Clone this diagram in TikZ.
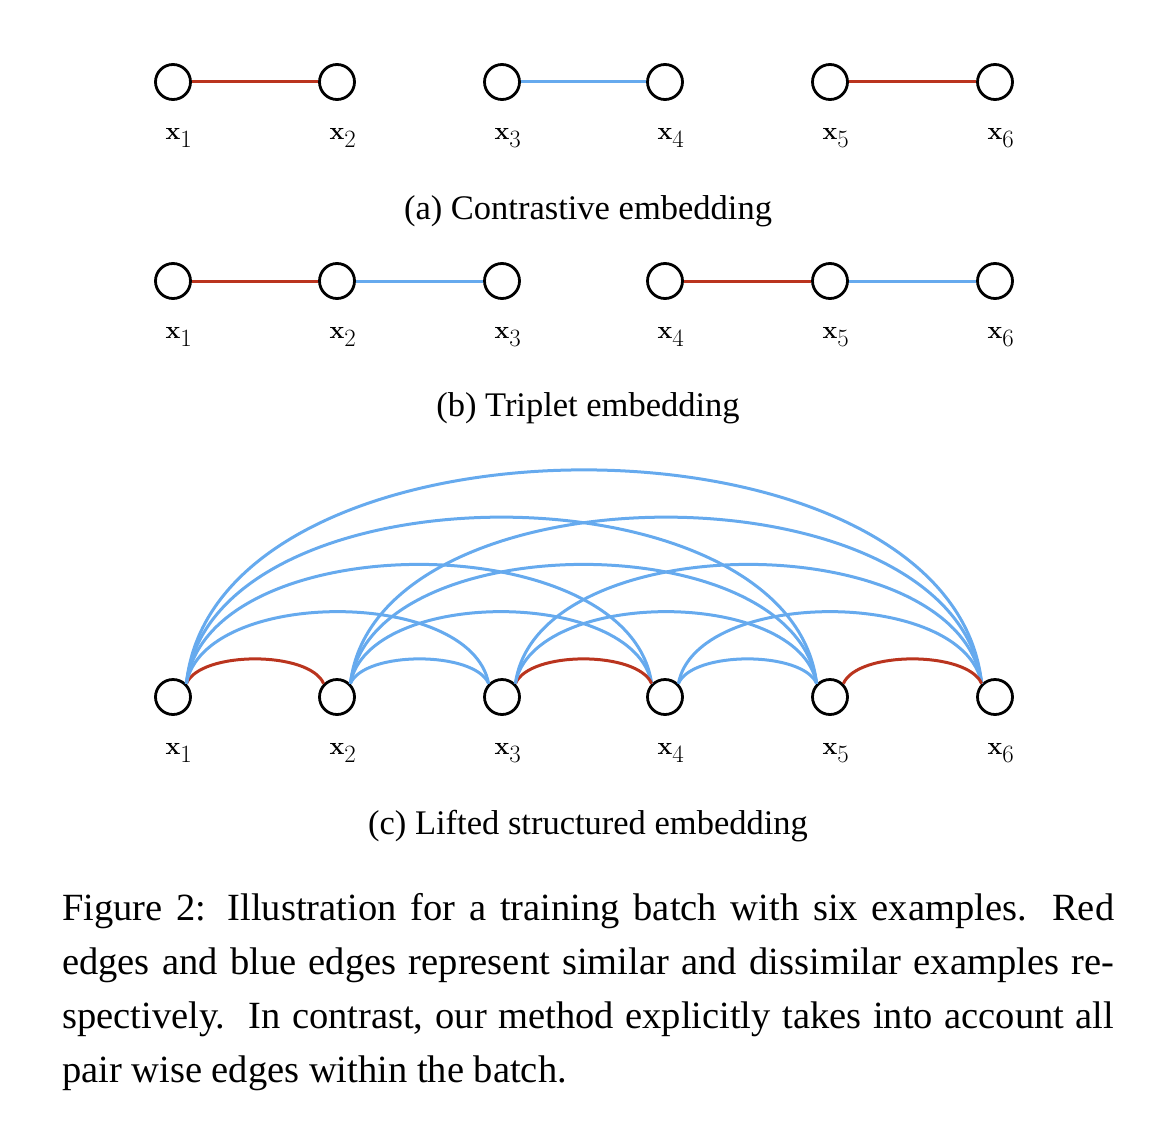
\documentclass[tikz,border=0pt]{standalone}
\usepackage{amsmath}
\usepackage[no-math]{fontspec}
\setmainfont{Liberation Serif}
\begin{document}
\begin{tikzpicture}[x=1pt,y=-1pt,
  v/.style={circle,draw=black,line width=2.8pt,minimum size=35pt,inner sep=0pt},
  lab/.style={font=\fontsize{40}{42}\selectfont},
  sub/.style={font=\fontsize{34.5}{38}\selectfont},
  red/.style={draw={rgb,255:red,186;green,52;blue,30},line width=3pt},
  blue/.style={draw={rgb,255:red,102;green,170;blue,238},line width=3pt}]
\useasboundingbox (0,0) rectangle (1150,1126);
\def\xs{{173,337,502,665,830,995}}
\foreach \r/\y in {a/82,b/281,c/697}{
  \foreach \i in {1,...,6}{
    \pgfmathsetmacro\xx{\xs[\i-1]}
    \node[v] (\r\i) at (\xx,\y) {};
    \node[lab] (\r l\i) at (\xx+6,\y+56) {$\mathbf{x}_{\i}$};
  }
}
% (a)
\draw[red] (a1) -- (a2);
\draw[blue] (a3) -- (a4);
\draw[red] (a5) -- (a6);
\node[sub] (ca) at (588,211) {(a) Contrastive embedding};
% (b)
\draw[red] (b1) -- (b2);
\draw[blue] (b2) -- (b3);
\draw[red] (b4) -- (b5);
\draw[blue] (b5) -- (b6);
\node[sub] (cb) at (588,408) {(b) Triplet embedding};
% (c)
\foreach \i in {1,...,5}{
  \foreach \j in {\i,...,6}{
    \ifnum\j>\i
      \pgfmathtruncatemacro\k{\j-\i}
      \pgfmathsetmacro\c{63*\k-30}
      \pgfmathsetmacro\d{10+4*\k}
      \pgfmathtruncatemacro\odd{mod(\i,2)}
      \ifnum\k=1
        \ifnum\odd=1
          \draw[red] (c\i.45) .. controls +(\d,-\c) and +(-\d,-\c) .. (c\j.135);
        \else
          \draw[blue] (c\i.45) .. controls +(\d,-\c) and +(-\d,-\c) .. (c\j.135);
        \fi
      \else
        \draw[blue] (c\i.45) .. controls +(\d,-\c) and +(-\d,-\c) .. (c\j.135);
      \fi
    \fi
  }
}
\node[sub] (cc) at (588,826) {(c) Lifted structured embedding};
\node[anchor=north west,text width=1052pt,align=justify,inner sep=0pt,
  font=\fontsize{38.5}{54}\selectfont] (cap) at (62,893)
  {Figure 2: Illustration for a training batch with six examples. Red edges and blue edges represent similar and dissimilar examples respectively.\ \ In contrast, our method explicitly takes into account all pair wise edges within the batch.};
\end{tikzpicture}
\end{document}
